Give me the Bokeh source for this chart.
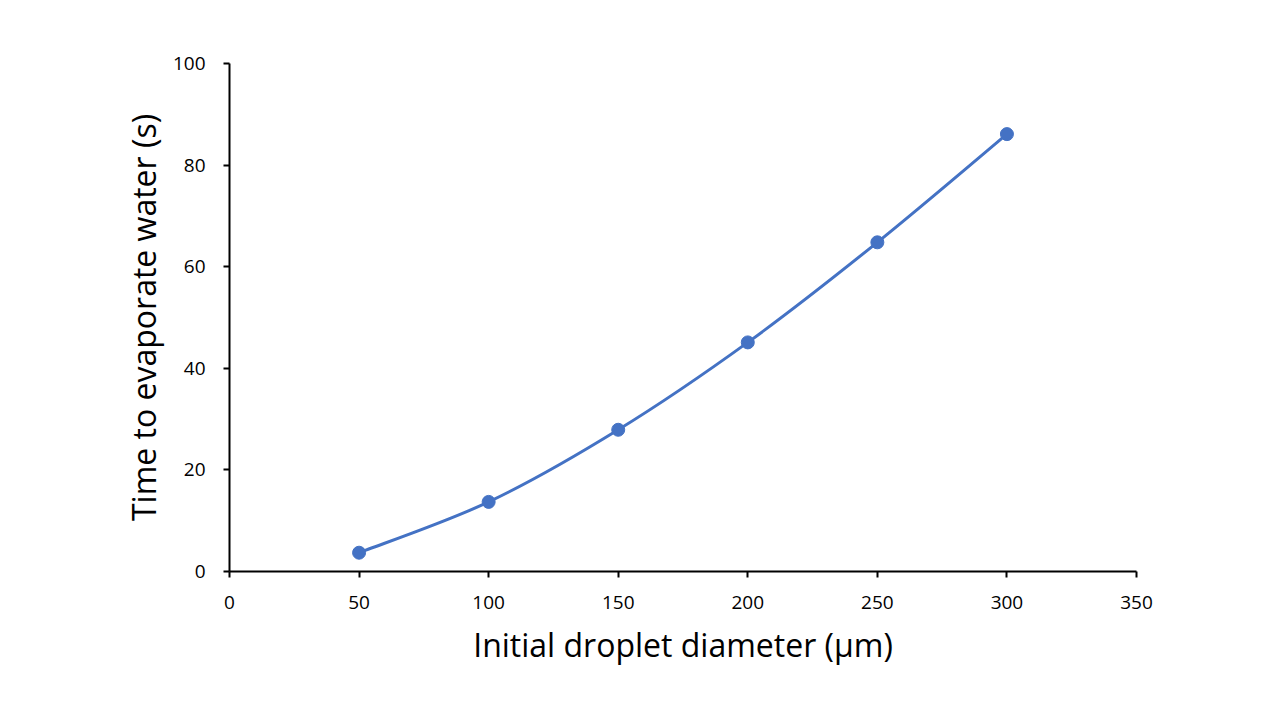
from bokeh.plotting import figure
from bokeh.models import Range1d, FixedTicker
from bokeh.embed import file_html
from bokeh.resources import INLINE

# Data
diameter_um = [50, 100, 150, 200, 250, 300]
evap_time_s = [3.7, 13.7, 27.9, 45.1, 64.8, 86.1]
x_ticks = [0, 50, 100, 150, 200, 250, 300, 350]
y_ticks = [0, 20, 40, 60, 80, 100]
x_label = "Initial droplet diameter (µm)"
y_label = "Time to evaporate water (s)"

BLUE = "#4472C4"
FONT = "Open Sans"

p = figure(width=1272, height=712, output_backend="svg", toolbar_location=None,
           x_range=Range1d(0, 350), y_range=Range1d(0, 100),
           min_border_left=229, min_border_right=136, min_border_top=63, min_border_bottom=141)
p.outline_line_color = None
p.xgrid.visible = False
p.ygrid.visible = False
p.background_fill_color = "white"
p.border_fill_color = "white"

# Smoothed line (Catmull-Rom style bezier as in spreadsheet smoothing)
n = len(diameter_um)
x0, y0, x1, y1, cx0, cy0, cx1, cy1 = [], [], [], [], [], [], [], []
for i in range(n - 1):
    im1 = max(i - 1, 0)
    ip2 = min(i + 2, n - 1)
    x0.append(diameter_um[i]); y0.append(evap_time_s[i])
    x1.append(diameter_um[i + 1]); y1.append(evap_time_s[i + 1])
    cx0.append(diameter_um[i] + (diameter_um[i + 1] - diameter_um[im1]) / 6)
    cy0.append(evap_time_s[i] + (evap_time_s[i + 1] - evap_time_s[im1]) / 6)
    cx1.append(diameter_um[i + 1] - (diameter_um[ip2] - diameter_um[i]) / 6)
    cy1.append(evap_time_s[i + 1] - (evap_time_s[ip2] - evap_time_s[i]) / 6)
p.bezier(x0=x0, y0=y0, x1=x1, y1=y1, cx0=cx0, cy0=cy0, cx1=cx1, cy1=cy1,
         line_color=BLUE, line_width=3)
p.scatter(diameter_um, evap_time_s, size=13, fill_color=BLUE, line_color=BLUE)

for ax, ticks, label in ((p.xaxis[0], x_ticks, x_label), (p.yaxis[0], y_ticks, y_label)):
    ax.ticker = FixedTicker(ticks=ticks)
    ax.minor_tick_line_color = None
    ax.major_tick_out = 6
    ax.major_tick_in = 0
    ax.major_tick_line_width = 2
    ax.major_tick_line_color = "black"
    ax.axis_line_width = 2
    ax.axis_line_color = "black"
    ax.major_label_text_font = FONT
    ax.major_label_text_font_size = "19px"
    ax.major_label_text_color = "black"
    ax.axis_label = label
    ax.axis_label_text_font = FONT
    ax.axis_label_text_font_size = "32px"
    ax.axis_label_text_font_style = "normal"
    ax.axis_label_text_color = "black"

p.xaxis[0].major_label_standoff = 18
p.xaxis[0].axis_label_standoff = 11
p.yaxis[0].major_label_standoff = 18
p.yaxis[0].axis_label_standoff = 5

open("out.html", "w").write(file_html(p, INLINE))
